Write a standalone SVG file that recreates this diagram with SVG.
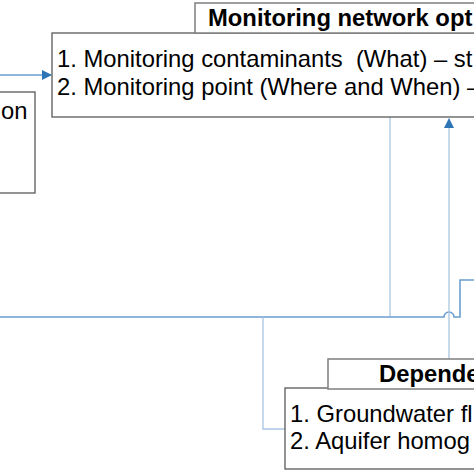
<svg xmlns="http://www.w3.org/2000/svg" width="474" height="474" viewBox="0 0 474 474">
<style>
.box{fill:#fff;stroke:#595959;stroke-width:1.3}
.tbox{fill:#fff;stroke:#7f7f7f;stroke-width:1.5}
.t{font-family:"Liberation Sans",Arial,sans-serif;font-size:23.8px;fill:#000;white-space:pre}
.b{font-family:"Liberation Sans",Arial,sans-serif;font-size:23.8px;font-weight:bold;fill:#000}
.c{fill:none;stroke:#a9c6e2;stroke-width:1.3}
.cm{fill:none;stroke:#6a9fd0;stroke-width:1.6}
</style>
<defs>
<marker id="ah" markerWidth="10" markerHeight="10" refX="9" refY="5" orient="auto" markerUnits="userSpaceOnUse">
<path d="M0,0 L10,5 L0,10 Z" fill="#2e75b6"/>
</marker>
</defs>
<rect width="474" height="474" fill="#fff"/>
<g id="connectors">
<path class="cm" d="M0,75 H51" marker-end="url(#ah)"/>
<path class="c" d="M390,117 V317"/>
<path class="cm" d="M0,317 H444 A5,5 0 0 1 454,317 H460 V280 H474"/>
<path class="c" d="M449,359 V119" marker-end="url(#ah)"/>
<path class="c" d="M263,317 V429 H285"/>
</g>
<g id="left-node">
<rect class="box" x="-10" y="92" width="45" height="101"/>
<text class="t" x="1" y="119">on</text>
</g>
<g id="monitoring-node">
<rect class="box" x="52" y="33" width="440" height="84"/>
<rect class="tbox" x="195" y="3" width="300" height="30"/>
<text class="b" x="208" y="26">Monitoring network opt</text>
<text class="t" x="57" y="67" xml:space="preserve">1. Monitoring contaminants  (What) – st</text>
<text class="t" x="57" y="95">2. Monitoring point (Where and When) –</text>
</g>
<g id="dependence-node">
<rect class="box" x="285" y="388" width="200" height="81"/>
<rect class="tbox" x="328" y="359" width="160" height="30"/>
<text class="b" x="379" y="382">Depende</text>
<text class="t" x="290" y="422">1. Groundwater fl</text>
<text class="t" x="290" y="449">2. Aquifer homog</text>
</g>
</svg>
